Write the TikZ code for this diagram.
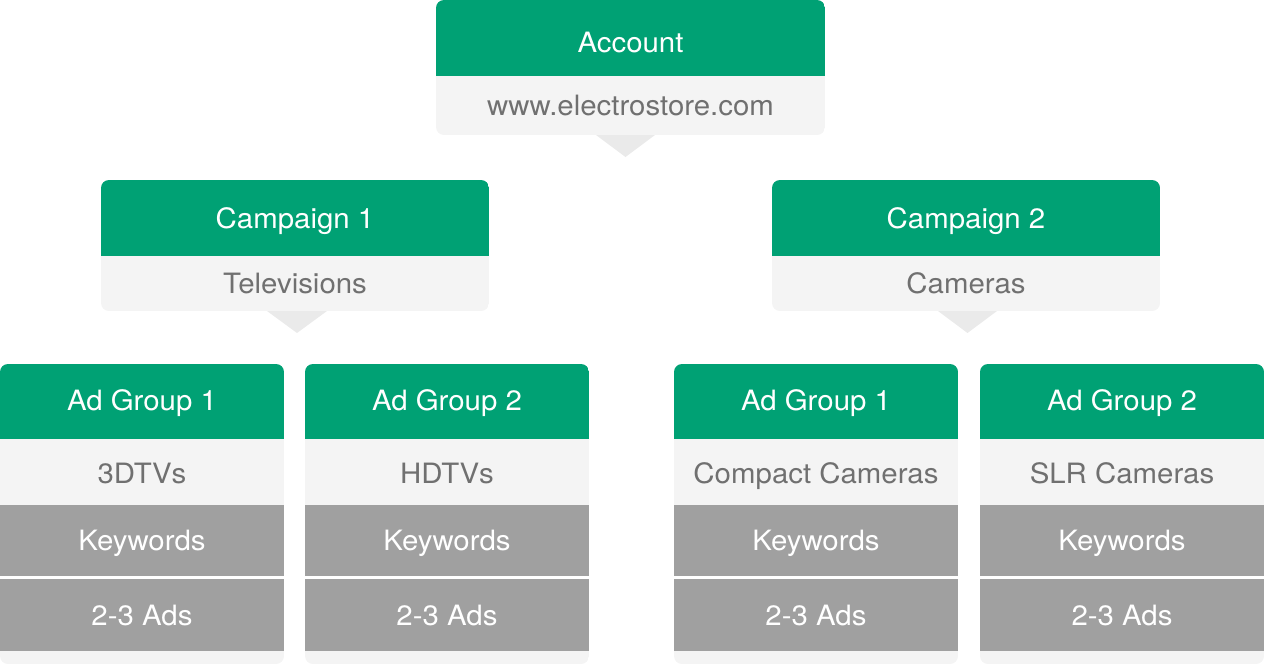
\documentclass[tikz,border=0pt]{standalone}
\usepackage{fontspec}
\setmainfont[FakeStretch=1.05]{TeX Gyre Heros}
\usetikzlibrary{calc}
\definecolor{agreen}{RGB}{0,161,116}
\definecolor{lightbg}{RGB}{244,244,244}
\definecolor{tricol}{RGB}{234,234,234}
\definecolor{rowgrey}{RGB}{160,160,160}
\definecolor{txtgrey}{RGB}{112,112,112}
% card: L R T G(green bottom) B(bottom)
\newcommand\headcard[5]{%
  \begin{scope}
    \clip[rounded corners=8pt] (#1,#3) rectangle (#2,#5);
    \fill[lightbg] (#1,#3) rectangle (#2,#5);
    \fill[agreen] (#1,#3) rectangle (#2,#4);
  \end{scope}}
% ad group card: L R
\newcommand\groupcard[2]{%
  \begin{scope}
    \clip[rounded corners=8pt] (#1,364) rectangle (#2,664);
    \fill[lightbg] (#1,364) rectangle (#2,664);
    \fill[agreen] (#1,364) rectangle (#2,439);
    \fill[rowgrey] (#1,505) rectangle (#2,576);
    \fill[white] (#1,576) rectangle (#2,579);
    \fill[rowgrey] (#1,579) rectangle (#2,651);
  \end{scope}}
\begin{document}
\begin{tikzpicture}[x=1pt,y=-1pt,
  every node/.style={inner sep=0pt, anchor=base, font=\fontsize{28}{32}\selectfont},
  wtxt/.style={text=white},
  gtxt/.style={text=txtgrey},
  pointer/.style={fill=tricol}]
\useasboundingbox (0,0) rectangle (1264,665);

% Account
\headcard{436}{825}{0}{76}{135}
\node[wtxt] (acct) at (630.5,52) {Account};
\node[gtxt] (acctsub) at (630.5,115) {www.electrostore.com};
\coordinate (acctbot) at (625.5,135);
\coordinate (accttip) at (625.5,157);
\fill[pointer] ($(acctbot)+(-29.5,0)$) -- ($(acctbot)+(29.5,0)$) -- (accttip) -- cycle;

% Campaign 1
\headcard{101}{489}{180}{256}{311}
\node[wtxt] (camp1) at (295,228) {Campaign 1};
\node[gtxt] (camp1sub) at (295,293) {Televisions};
\coordinate (camp1bot) at (297,311);
\coordinate (camp1tip) at (297,333);
\fill[pointer] ($(camp1bot)+(-30,0)$) -- ($(camp1bot)+(30,0)$) -- (camp1tip) -- cycle;

% Campaign 2
\headcard{772}{1160}{180}{256}{311}
\node[wtxt] (camp2) at (966,228) {Campaign 2};
\node[gtxt] (camp2sub) at (966,293) {Cameras};
\coordinate (camp2bot) at (967.5,311);
\coordinate (camp2tip) at (967.5,333);
\fill[pointer] ($(camp2bot)+(-29.5,0)$) -- ($(camp2bot)+(29.5,0)$) -- (camp2tip) -- cycle;

% Ad groups
\groupcard{0}{284}
\node[wtxt] (ag1) at (142,410) {Ad Group 1};
\node[gtxt] (ag1sub) at (142,483) {3DTVs};
\node[wtxt] (ag1kw) at (142,550) {Keywords};
\node[wtxt] (ag1ads) at (142,625) {2-3 Ads};

\groupcard{305}{589}
\node[wtxt] (ag2) at (447,410) {Ad Group 2};
\node[gtxt] (ag2sub) at (447,483) {HDTVs};
\node[wtxt] (ag2kw) at (447,550) {Keywords};
\node[wtxt] (ag2ads) at (447,625) {2-3 Ads};

\groupcard{674}{958}
\node[wtxt] (ag3) at (816,410) {Ad Group 1};
\node[gtxt] (ag3sub) at (816,483) {Compact Cameras};
\node[wtxt] (ag3kw) at (816,550) {Keywords};
\node[wtxt] (ag3ads) at (816,625) {2-3 Ads};

\groupcard{980}{1264}
\node[wtxt] (ag4) at (1122,410) {Ad Group 2};
\node[gtxt] (ag4sub) at (1122,483) {SLR Cameras};
\node[wtxt] (ag4kw) at (1122,550) {Keywords};
\node[wtxt] (ag4ads) at (1122,625) {2-3 Ads};
\end{tikzpicture}
\end{document}
